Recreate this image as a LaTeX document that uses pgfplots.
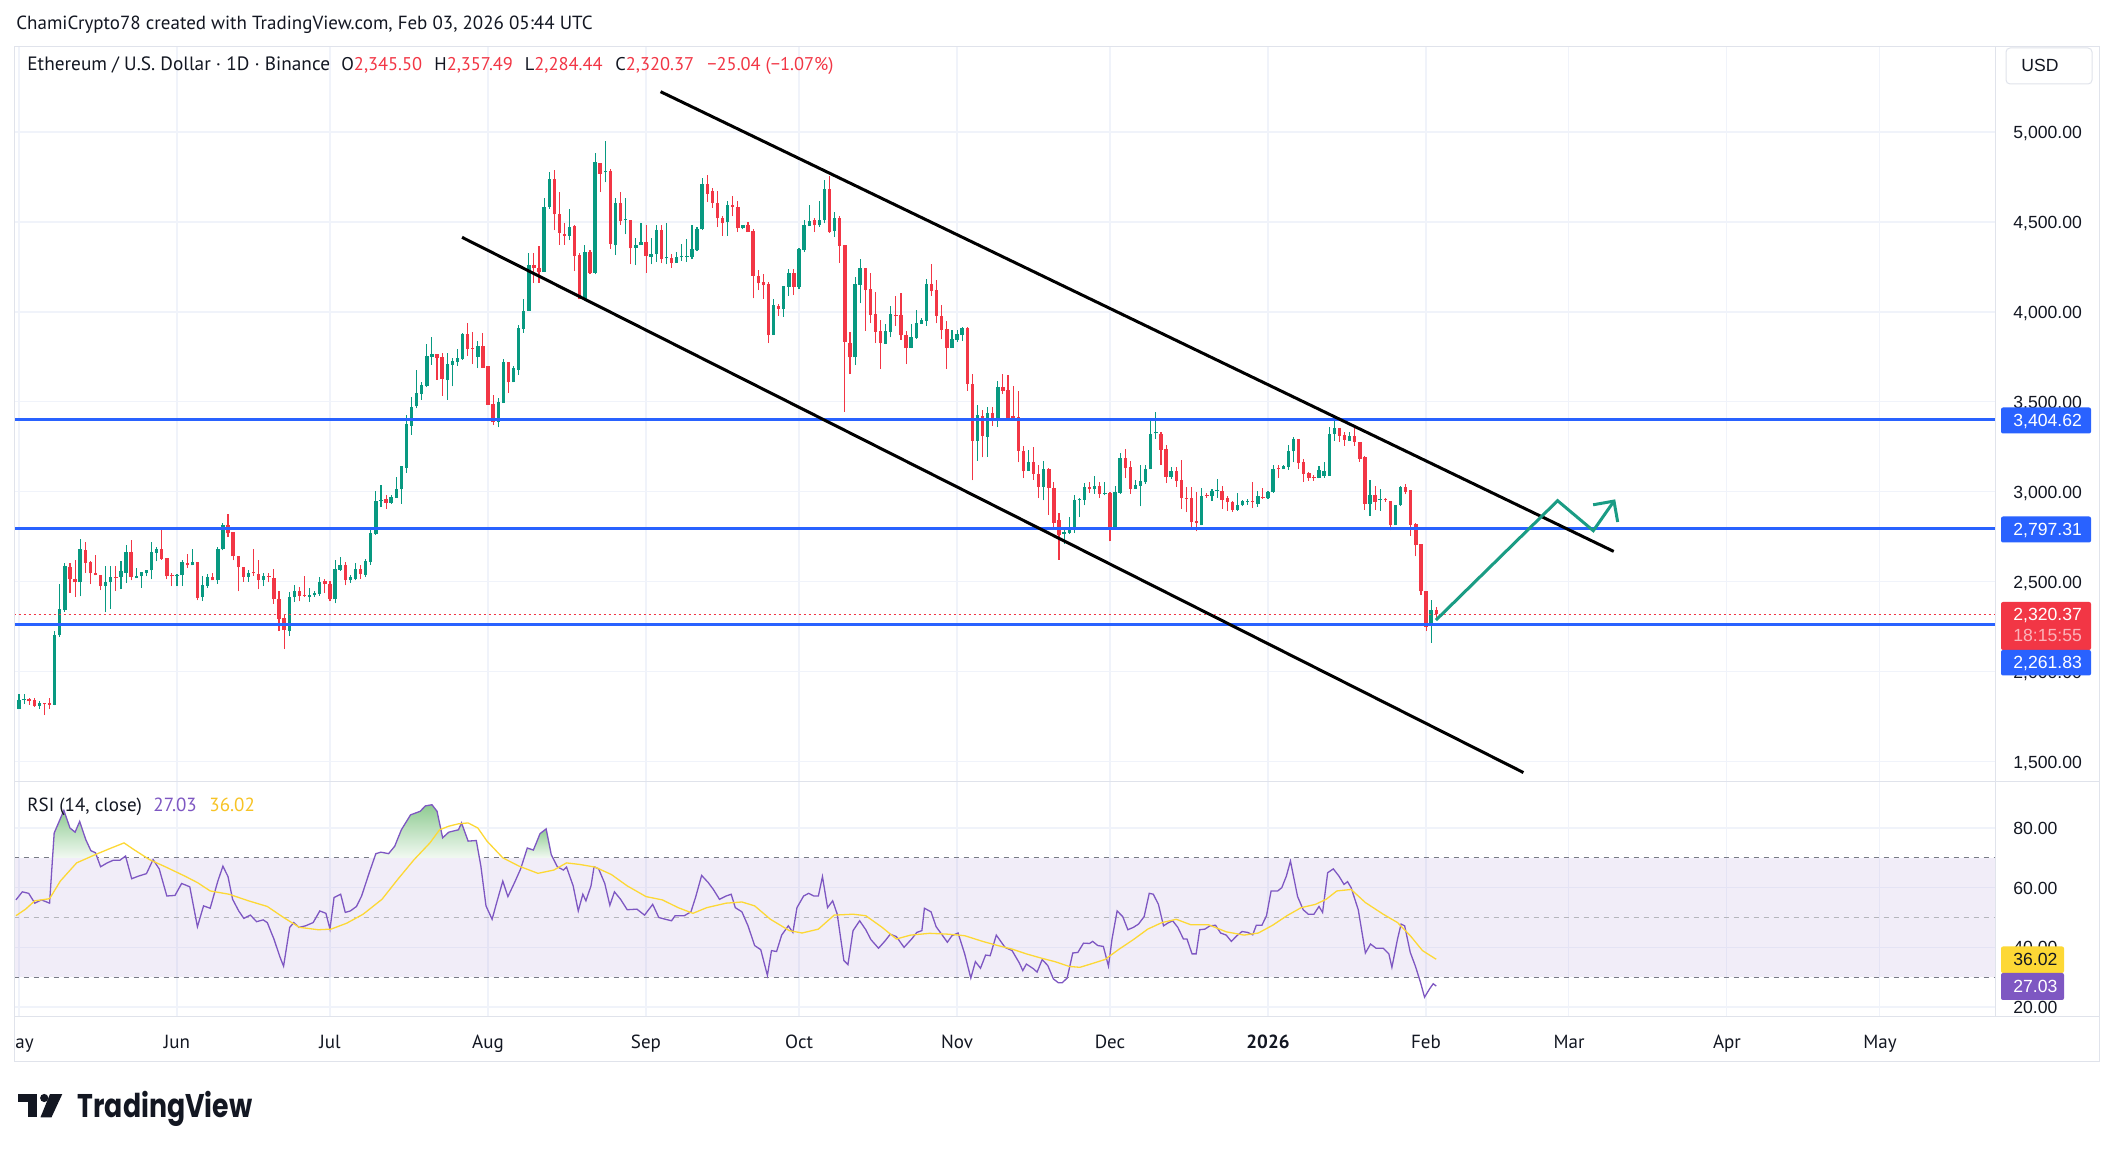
\documentclass[border=0pt]{standalone}
\usepackage{fontspec}
\setmainfont{PT Sans}
\newfontfamily\numfont{Liberation Sans}
\newfontfamily\logofont{Poppins}
\usepackage{pgfplots}
\usepackage{pgfplotstable}
\pgfplotsset{compat=1.18}
\usetikzlibrary{arrows.meta}

\definecolor{tvgreen}{HTML}{089981}
\definecolor{tvred}{HTML}{F23645}
\definecolor{tvblue}{HTML}{2962FF}
\definecolor{tvgrid}{HTML}{F0F3FA}
\definecolor{tvframe}{HTML}{E0E3EB}
\definecolor{rsipurple}{HTML}{7E57C2}
\definecolor{rsiyellow}{HTML}{FDD835}
\definecolor{rsiytext}{HTML}{F7C325}
\definecolor{tvdash}{HTML}{787B86}
\definecolor{tvtext}{HTML}{131722}
\definecolor{arrowc}{HTML}{1A9C84}
\definecolor{obtop}{HTML}{8FCB92}
\definecolor{obbot}{HTML}{F2F9F2}
\definecolor{timepink}{HTML}{FBB4BA}

\pgfplotstableread{
d o h l c
0 1792 1874 1790 1842
1 1840 1874 1820 1846
2 1846 1851 1815 1835
3 1842 1851 1805 1809
4 1809 1839 1792 1824
5 1822 1824 1759 1818
6 1824 1851 1792 1815
7 1815 2225 1812 2206
8 2203 2489 2192 2351
9 2342 2602 2332 2589
10 2584 2606 2440 2513
11 2517 2623 2414 2497
12 2497 2739 2419 2684
13 2678 2722 2551 2606
14 2612 2615 2486 2547
15 2550 2650 2536 2536
16 2539 2539 2452 2475
17 2475 2589 2330 2499
18 2497 2587 2351 2526
19 2526 2586 2449 2523
20 2525 2617 2458 2558
21 2550 2702 2493 2667
22 2667 2733 2508 2525
23 2519 2578 2519 2534
24 2530 2556 2467 2556
25 2547 2567 2530 2567
26 2563 2720 2513 2665
27 2660 2691 2613 2684
28 2684 2795 2623 2628
29 2634 2634 2513 2530
30 2534 2550 2476 2530
31 2530 2545 2476 2539
32 2536 2619 2476 2610
33 2604 2656 2576 2591
34 2591 2684 2591 2610
35 2610 2610 2397 2412
36 2414 2534 2392 2484
37 2478 2543 2464 2528
38 2528 2550 2508 2508
39 2508 2691 2488 2684
40 2680 2828 2674 2817
41 2817 2878 2748 2769
42 2774 2774 2619 2641
43 2645 2645 2447 2580
44 2584 2584 2499 2528
45 2528 2563 2499 2550
46 2550 2684 2532 2547
47 2545 2619 2458 2508
48 2508 2548 2476 2530
49 2530 2548 2497 2525
50 2523 2573 2377 2402
51 2406 2449 2225 2295
52 2301 2323 2125 2231
53 2227 2443 2197 2415
54 2413 2484 2386 2450
55 2450 2472 2391 2421
56 2424 2532 2415 2421
57 2415 2465 2386 2428
58 2424 2449 2415 2439
59 2434 2527 2421 2500
60 2502 2517 2439 2486
61 2489 2502 2391 2406
62 2402 2622 2380 2573
63 2567 2637 2561 2595
64 2595 2610 2480 2508
65 2508 2536 2493 2526
66 2513 2604 2508 2573
67 2573 2591 2517 2541
68 2539 2628 2526 2615
69 2610 2791 2595 2772
70 2765 3005 2761 2950
71 2950 3040 2915 2955
72 2961 2983 2905 2939
73 2939 2983 2933 2970
74 2966 3081 2966 3016
75 3013 3146 2933 3142
76 3135 3427 3105 3377
77 3366 3525 3316 3473
78 3475 3676 3464 3549
79 3543 3608 3512 3593
80 3586 3824 3580 3754
81 3750 3859 3706 3765
82 3765 3765 3623 3743
83 3750 3769 3534 3627
84 3621 3773 3512 3710
85 3706 3743 3586 3728
86 3723 3793 3700 3743
87 3737 3882 3734 3878
88 3878 3941 3756 3793
89 3798 3887 3710 3793
90 3750 3839 3688 3808
91 3808 3882 3688 3691
92 3700 3700 3482 3484
93 3488 3538 3371 3386
94 3390 3519 3358 3497
95 3493 3737 3493 3719
96 3719 3719 3552 3608
97 3608 3700 3608 3686
98 3678 3926 3649 3908
99 3904 4070 3885 4006
100 4006 4325 4006 4259
101 4259 4329 4163 4242
102 4246 4364 4163 4222
103 4222 4634 4222 4584
104 4584 4778 4573 4740
105 4740 4791 4455 4542
106 4545 4669 4375 4440
107 4436 4492 4375 4422
108 4422 4573 4399 4473
109 4477 4481 4227 4311
110 4314 4329 4070 4070
111 4070 4374 4061 4335
112 4335 4342 4209 4218
113 4218 4886 4209 4832
114 4828 4828 4666 4769
115 4776 4952 4721 4782
116 4782 4797 4351 4379
117 4370 4631 4316 4603
118 4603 4666 4486 4505
119 4510 4631 4431 4514
120 4510 4514 4264 4353
121 4357 4412 4261 4375
122 4372 4495 4372 4390
123 4390 4486 4218 4311
124 4305 4412 4264 4324
125 4320 4486 4277 4453
126 4453 4481 4270 4292
127 4298 4492 4264 4305
128 4301 4320 4246 4274
129 4274 4333 4274 4305
130 4305 4379 4283 4311
131 4305 4408 4277 4311
132 4307 4486 4292 4348
133 4342 4473 4338 4459
134 4459 4745 4455 4714
135 4714 4764 4610 4658
136 4671 4690 4579 4606
137 4606 4675 4471 4520
138 4523 4536 4425 4492
139 4499 4616 4425 4592
140 4592 4647 4532 4586
141 4586 4619 4444 4464
142 4464 4486 4459 4481
143 4481 4499 4444 4444
144 4449 4459 4076 4200
145 4200 4231 4122 4159
146 4166 4209 4074 4148
147 4157 4166 3826 3871
148 3871 4070 3871 4039
149 4033 4043 3978 4019
150 4015 4144 3972 4144
151 4139 4237 4089 4214
152 4214 4237 4094 4139
153 4139 4355 4126 4351
154 4347 4514 4333 4486
155 4477 4592 4477 4508
156 4514 4520 4444 4481
157 4481 4616 4473 4514
158 4510 4736 4492 4684
159 4684 4754 4440 4444
160 4449 4555 4416 4523
161 4523 4532 4274 4366
162 4370 4370 3445 3834
163 3826 3891 3654 3747
164 3747 4196 3704 4157
165 4150 4292 4048 4242
166 4242 4246 3895 4122
167 4126 4214 3937 3983
168 3987 4113 3826 3889
169 3895 3954 3682 3826
170 3824 3932 3821 3895
171 3889 4033 3858 3987
172 3985 4089 3922 3980
173 3982 4107 3845 3871
174 3871 3893 3710 3798
175 3798 3932 3798 3858
176 3856 4009 3852 3937
177 3932 3969 3932 3954
178 3950 4185 3922 4153
179 4153 4264 4089 4116
180 4120 4176 3937 3978
181 3978 4039 3848 3898
182 3904 3950 3682 3799
183 3799 3898 3799 3848
184 3845 3898 3834 3876
185 3872 3917 3839 3913
186 3908 3919 3562 3599
187 3599 3654 3063 3284
188 3284 3482 3173 3427
189 3423 3455 3192 3312
190 3306 3473 3196 3436
191 3438 3469 3368 3395
192 3395 3614 3362 3584
193 3584 3654 3543 3562
194 3565 3649 3405 3408
195 3423 3589 3405 3405
196 3414 3558 3164 3229
197 3229 3257 3076 3113
198 3118 3233 3118 3168
199 3168 3247 3066 3100
200 3100 3150 2965 3026
201 3029 3170 2952 3127
202 3124 3131 2872 3020
203 3022 3057 2798 2826
204 2841 2883 2622 2761
205 2767 2798 2711 2775
206 2770 2859 2767 2804
207 2804 2983 2770 2955
208 2952 2965 2859 2961
209 2955 3048 2924 3026
210 3026 3053 2994 3013
211 3013 3090 2989 3031
212 3035 3057 2966 2989
213 2989 3053 2980 2994
214 2994 2998 2724 2795
215 2798 3035 2795 2998
216 2994 3214 2989 3188
217 3188 3238 3076 3131
218 3137 3173 2989 3016
219 3016 3066 3016 3038
220 3035 3150 2919 3059
221 3053 3150 3044 3127
222 3124 3395 3124 3321
223 3325 3442 3294 3331
224 3321 3331 3149 3234
225 3238 3262 3048 3085
226 3081 3137 3072 3118
227 3118 3136 3029 3062
228 3068 3177 2905 2964
229 2968 3026 2887 2963
230 2963 3026 2798 2830
231 2839 2998 2780 2826
232 2813 3022 2813 2979
233 2983 2992 2966 2979
234 2974 3016 2948 3007
235 3003 3072 2966 3007
236 3007 3031 2905 2957
237 2966 2976 2896 2944
238 2944 2948 2890 2900
239 2900 2992 2896 2928
240 2924 2955 2920 2950
241 2946 2961 2928 2951
242 2951 3057 2909 2946
243 2933 3007 2918 2974
244 2972 3020 2961 2966
245 2964 3007 2961 2998
246 2998 3149 2994 3127
247 3131 3149 3077 3124
248 3124 3149 3124 3142
249 3140 3260 3122 3229
250 3225 3307 3164 3294
251 3294 3294 3127 3160
252 3168 3183 3057 3100
253 3105 3112 3062 3077
254 3081 3094 3062 3077
255 3079 3146 3075 3120
256 3090 3168 3077 3118
257 3090 3358 3090 3321
258 3321 3401 3284 3353
259 3353 3353 3279 3312
260 3316 3334 3257 3290
261 3284 3334 3284 3312
262 3312 3368 3257 3279
263 3275 3275 3168 3183
264 3192 3201 2900 2933
265 2933 3068 2868 2983
266 2983 3031 2900 2946
267 2955 3016 2896 2959
268 2961 2968 2946 2955
269 2951 2951 2785 2813
270 2813 2928 2813 2928
271 2924 3031 2920 3026
272 3027 3044 2985 3001
273 3011 3011 2757 2817
274 2822 2828 2641 2702
275 2707 2711 2425 2447
276 2450 2450 2225 2249
277 2258 2397 2162 2345.5
278 2345.5 2357.49 2284.44 2320.37
}\candles

\pgfplotstableread{
d r
-0.6 55.9
0.65 58.6
1.9 58.1
3.1 54.8
4.4 55.9
6.0 54.8
6.9 78.3
8.8 85.9
10.0 80.0
11.0 78.6
11.9 82.2
13.1 76.1
14.1 72.4
15.0 71.7
16.0 67.0
17.3 68.3
18.5 69.2
19.8 69.2
20.9 70.6
22.1 63.0
23.5 63.9
25.0 64.7
26.3 69.4
27.5 66.3
29.0 57.2
30.6 57.4
31.9 61.4
33.5 60.3
35.0 46.9
36.2 53.9
37.5 53.1
39.0 62.2
40.0 67.2
41.0 63.7
41.9 56.1
43.1 52.2
44.1 49.7
45.4 50.8
46.6 48.6
47.9 49.2
48.7 48.3
50.0 42.8
51.2 36.7
51.9 33.7
53.1 46.7
53.9 48.3
54.9 46.7
56.2 47.2
57.7 48.3
59.0 52.2
60.2 51.4
61.0 46.1
61.8 56.7
63.1 57.8
64.0 51.7
65.0 52.2
66.2 53.7
67.2 57.2
68.7 65.0
70.0 71.4
71.0 71.9
72.5 71.4
73.7 73.9
75.0 79.4
76.8 84.4
78.7 85.6
79.7 87.4
81.0 87.8
82.0 85.6
83.1 76.7
84.3 78.6
86.2 79.4
86.8 81.7
88.1 75.6
89.7 75.8
90.6 67.2
91.6 53.9
92.8 49.4
93.7 55.0
94.9 62.2
95.9 57.0
97.2 61.7
98.4 66.3
99.7 73.3
100.9 72.6
102.2 78.1
103.4 79.7
104.4 71.1
105.6 67.0
106.8 65.9
107.4 66.9
108.7 60.6
109.7 52.2
110.6 57.8
111.2 55.6
112.2 60.6
112.8 67.0
113.7 66.3
114.9 61.4
115.9 54.1
116.8 58.6
118.0 56.1
119.3 52.6
121.2 52.8
122.7 50.8
124.3 54.4
125.5 50.0
126.8 49.4
128.0 48.9
128.7 50.6
130.5 50.6
131.8 51.9
132.7 56.7
133.9 64.1
135.2 61.7
136.2 59.4
137.4 56.1
138.7 57.2
139.7 57.8
140.5 53.3
141.8 51.9
143.0 47.2
144.3 40.6
145.5 39.2
146.8 30.6
147.6 38.9
148.6 38.6
149.6 44.1
150.9 47.2
151.8 45.0
152.6 53.3
153.9 57.2
154.9 58.1
155.9 57.2
156.8 57.2
157.6 63.7
158.6 53.3
159.6 55.6
160.5 51.1
161.8 35.6
162.6 34.2
163.6 45.6
164.9 48.9
166.1 45.9
167.1 42.6
168.6 39.7
169.9 42.2
170.9 44.4
172.1 43.6
173.6 40.0
175.1 42.8
176.1 45.0
177.1 45.6
177.6 53.1
178.9 51.9
179.9 46.9
181.1 44.1
182.1 41.7
183.0 43.9
184.2 44.8
185.5 37.8
186.7 29.7
187.6 35.2
188.6 33.0
189.6 37.4
190.5 37.2
191.7 44.1
193.4 40.0
194.8 38.9
196.2 34.8
196.9 32.2
197.6 34.4
199.0 32.8
199.7 31.7
200.7 35.9
201.8 33.9
202.9 29.4
203.9 28.1
204.6 28.1
205.6 29.7
206.7 38.1
207.7 38.3
208.8 41.4
210.0 41.3
210.6 42.0
211.6 40.6
212.7 40.3
213.7 33.7
214.4 42.8
215.4 52.2
216.5 50.3
217.5 45.9
218.6 46.7
219.6 47.8
220.7 50.3
221.7 58.1
222.5 57.8
223.5 54.4
224.5 47.2
225.3 48.1
226.3 48.9
227.3 46.7
228.4 42.8
229.1 42.8
230.1 37.8
230.9 37.8
231.6 45.9
232.6 46.1
233.6 47.2
234.7 47.4
235.7 44.8
236.8 44.1
237.8 42.0
238.9 43.9
239.9 45.3
241.0 45.0
242.0 44.2
242.7 47.4
243.8 47.4
244.7 50.6
245.6 58.9
246.9 58.9
247.7 60.0
248.6 63.9
249.4 68.9
250.8 57.0
251.9 52.6
252.9 51.1
254.0 51.1
255.0 53.7
255.7 51.7
256.7 65.0
257.8 66.3
258.9 63.9
259.9 61.1
260.6 62.0
261.3 60.0
262.7 52.6
264.1 38.1
265.1 41.1
266.2 39.7
267.6 39.7
268.7 37.8
269.3 33.3
270.4 42.8
271.1 47.8
271.8 47.2
272.9 38.3
273.9 33.7
274.9 28.3
275.7 23.3
276.7 26.1
277.4 27.8
278.0 27.03
}\rsidata

\pgfplotstableread{
d m
-0.6 50.6
1.3 52.8
3.1 55.6
6.0 56.3
8.1 62.2
11.3 68.3
15.0 71.1
18.1 73.3
20.6 75.0
22.5 72.8
25.6 69.4
28.7 67.0
32.5 63.9
35.0 61.7
37.5 58.9
41.2 57.8
45.0 55.6
48.7 53.7
51.9 50.0
55.0 46.7
58.7 45.9
61.2 46.1
64.3 48.1
67.5 51.1
71.2 56.1
74.3 62.8
77.5 69.4
80.6 75.0
82.5 79.4
84.3 80.6
86.2 81.4
88.1 81.7
90.0 80.0
91.8 75.6
94.9 70.0
98.1 67.2
101.8 64.8
104.9 65.9
107.4 68.3
109.9 67.8
113.0 66.9
116.2 64.4
119.3 60.6
123.0 57.0
126.2 55.9
129.3 53.3
132.2 51.4
134.9 53.3
138.7 54.8
141.8 55.2
144.3 53.9
147.4 49.4
151.1 45.6
153.6 44.8
156.8 46.1
159.9 50.8
163.6 51.1
166.1 50.6
169.3 46.7
172.1 42.8
174.9 44.1
178.6 44.7
182.4 44.4
185.5 43.9
189.2 41.9
192.0 40.6
194.8 39.4
197.6 37.8
200.7 36.3
203.2 35.2
206.0 33.6
208.1 33.3
210.2 34.4
213.0 35.9
215.8 39.4
218.6 42.6
221.4 46.1
224.2 48.3
227.0 49.4
229.8 47.6
233.3 47.6
236.8 45.2
240.3 44.1
243.1 44.8
245.9 47.4
248.7 50.6
251.5 53.3
254.3 54.4
256.4 56.1
258.5 58.9
261.3 59.4
264.1 55.0
267.6 51.1
270.4 48.3
272.9 43.9
275.3 38.9
277.7 36.3
278.0 36.02
}\madata

\pgfplotsset{
  tvaxis/.style={
    scale only axis, anchor=south west, width=990.5pt,
    xmin=-0.981, xmax=387.6,
    axis line style={draw=none},
    ticks=none,
  },
  wick/.style={draw=none, mark=none,
    /pgfplots/error bars/y dir=plus,
    /pgfplots/error bars/y explicit,
    /pgfplots/error bars/error mark=none,
    /pgfplots/error bars/error bar style={draw=#1, line width=0.55pt, solid}},
  body/.style={draw=none, mark=none,
    /pgfplots/error bars/y dir=plus,
    /pgfplots/error bars/y explicit,
    /pgfplots/error bars/error mark=none,
    /pgfplots/error bars/error bar style={draw=#1, line width=1.7pt, solid}},
}

\newcommand\hdr{\fontsize{9.5}{11}\selectfont}
\newcommand\leg{\fontsize{9.65}{11}\selectfont}
\newcommand\legv{\fontsize{9.2}{11}\selectfont}
\newcommand\axf{\numfont\fontsize{8.8}{10}\selectfont}

\begin{document}
\begin{tikzpicture}
\useasboundingbox (0,0) rectangle (1057pt,575.5pt);
\fill[white] (0,0) rectangle (1057pt,575.5pt);

% ---------- price pane ----------
\begin{axis}[tvaxis, at={(7pt,184.5pt)}, height=367.5pt,
  ymin=1386.5, ymax=5473.2]
  % grid
  \pgfplotsinvokeforeach{0,31,61,92,123,153,184,214,245,276,304,335,365}{
    \addplot[tvgrid, line width=0.6pt] coordinates {(#1,1000) (#1,6000)};}
  \pgfplotsinvokeforeach{1500,2000,2500,3000,3500,4000,4500,5000}{
    \addplot[tvgrid, line width=0.6pt] coordinates {(-5,#1) (400,#1)};}
  % candles: wicks
  \addplot[restrict expr to domain={\thisrow{c}-\thisrow{o}}{0:100000}, wick=tvgreen]
    table[x=d, y=l, y error expr={\thisrow{h}-\thisrow{l}}] {\candles};
  \addplot[restrict expr to domain={\thisrow{c}-\thisrow{o}}{-100000:-0.001}, wick=tvred]
    table[x=d, y=l, y error expr={\thisrow{h}-\thisrow{l}}] {\candles};
  % candles: bodies
  \addplot[restrict expr to domain={\thisrow{c}-\thisrow{o}}{0:100000}, body=tvgreen]
    table[x=d, y expr={min(\thisrow{o},\thisrow{c})}, y error expr={max(abs(\thisrow{c}-\thisrow{o}),5)}] {\candles};
  \addplot[restrict expr to domain={\thisrow{c}-\thisrow{o}}{-100000:-0.001}, body=tvred]
    table[x=d, y expr={min(\thisrow{o},\thisrow{c})}, y error expr={max(abs(\thisrow{c}-\thisrow{o}),5)}] {\candles};
  % current price line
  \addplot[tvred, line width=0.5pt, dash pattern=on 1pt off 1.5pt] coordinates {(-5,2320.37) (400,2320.37)};
  % horizontal levels
  \addplot[tvblue, line width=1.5pt] coordinates {(-5,3404.62) (400,3404.62)};
  \addplot[tvblue, line width=1.5pt] coordinates {(-5,2797.31) (400,2797.31)};
  \addplot[tvblue, line width=1.5pt] coordinates {(-5,2261.83) (400,2261.83)};
  % channel
  \addplot[black, line width=1.5pt] coordinates {(125.85,5224.6) (312.8,2668.6)};
  \addplot[black, line width=1.5pt] coordinates {(86.9,4415) (295.1,1439)};
  % projection arrow
  \addplot[arrowc, line width=1.5pt, line join=miter, -{Straight Barb[length=7.5pt,width=15pt]}]
    coordinates {(277.95,2287) (301.8,2950.5) (308.8,2783.7) (313.1,2958)};
\end{axis}

% ---------- RSI pane ----------
\begin{axis}[tvaxis, at={(7pt,67pt)}, height=117.5pt,
  ymin=16.65, ymax=95.42]
  \pgfplotsinvokeforeach{0,31,61,92,123,153,184,214,245,276,304,335,365}{
    \addplot[tvgrid, line width=0.6pt] coordinates {(#1,0) (#1,100)};}
  \pgfplotsinvokeforeach{20,40,60,80}{
    \addplot[tvgrid, line width=0.6pt] coordinates {(-5,#1) (400,#1)};}
  \addplot[fill=rsipurple, fill opacity=0.1, draw=none]
    coordinates {(-5,30) (400,30) (400,70) (-5,70) (-5,30)};
  \addplot[tvdash, line width=0.5pt, dash pattern=on 2.5pt off 2.5pt] coordinates {(-5,70) (400,70)};
  \addplot[tvdash!55, line width=0.5pt, dash pattern=on 2.5pt off 2.5pt] coordinates {(-5,50) (400,50)};
  \addplot[tvdash, line width=0.5pt, dash pattern=on 2.5pt off 2.5pt] coordinates {(-5,30) (400,30)};
  % overbought fills (portions of the RSI above 70)
  \addplot[draw=none, top color=obtop, bottom color=obbot] coordinates {
    (6.58,70) (6.9,78.3) (8.8,85.9) (10.0,80.0) (11.0,78.6) (11.9,82.2) (13.1,76.1)
    (14.1,72.4) (15.0,71.7) (15.36,70) (6.58,70)};
  \addplot[draw=none, top color=obtop, bottom color=obbot] coordinates {
    (69.72,70) (70.0,71.4) (71.0,71.9) (72.5,71.4) (73.7,73.9) (75.0,79.4) (76.8,84.4)
    (78.7,85.6) (79.7,87.4) (81.0,87.8) (82.0,85.6) (83.1,76.7) (84.3,78.6) (86.2,79.4)
    (86.8,81.7) (88.1,75.6) (89.7,75.8) (90.31,70) (69.72,70)};
  \addplot[draw=none, top color=obtop, bottom color=obbot] coordinates {
    (99.09,70) (99.7,73.3) (100.9,72.6) (102.2,78.1) (103.4,79.7) (104.4,71.1) (104.72,70) (99.09,70)};
  \addplot[rsipurple, line width=0.65pt] table[x=d, y=r] {\rsidata};
  \addplot[rsiyellow, line width=0.65pt] table[x=d, y=m] {\madata};
\end{axis}

% ---------- annotations in pixel coordinates ----------
\begin{scope}[x=0.5pt, y=-0.5pt, shift={(0,575.5pt)}]
  % frame
  \draw[tvframe, line width=0.5pt] (14,46.5) rectangle (2099,1061);
  \draw[tvframe, line width=0.5pt] (14,782) -- (2099,782);
  \draw[tvframe, line width=0.5pt] (14,1017) -- (2099,1017);
  \draw[tvframe, line width=0.5pt] (1995,46.5) -- (1995,1017);

  % header
  \node[anchor=base west, inner sep=0, text=tvtext, font=\hdr] at (16,29.5)
    {ChamiCrypto78 created with TradingView.com, Feb 03, 2026 05:44 UTC};
  \node[anchor=base west, inner sep=0, text=tvtext, font=\leg] at (27,70.5)
    {Ethereum / U.S. Dollar · 1D · Binance};
  \node[anchor=base west, inner sep=0, text=tvtext, font=\legv] at (341,70.5) {O\textcolor{tvred}{2,345.50}};
  \node[anchor=base west, inner sep=0, text=tvtext, font=\legv] at (434,70.5) {H\textcolor{tvred}{2,357.49}};
  \node[anchor=base west, inner sep=0, text=tvtext, font=\legv] at (524.5,70.5) {L\textcolor{tvred}{2,284.44}};
  \node[anchor=base west, inner sep=0, text=tvtext, font=\legv] at (615,70.5) {C\textcolor{tvred}{2,320.37}};
  \node[anchor=base west, inner sep=0, text=tvred, font=\legv] at (707,70.5) {−25.04 (−1.07\%)};

  % RSI legend
  \node[anchor=base west, inner sep=0, text=tvtext, font=\hdr] at (27,811.5) {RSI (14, close)};
  \node[anchor=base west, inner sep=0, text=rsipurple, font=\hdr] at (153,811.5) {27.03};
  \node[anchor=base west, inner sep=0, text=rsiytext, font=\hdr] at (209,811.5) {36.02};

  % USD box
  \draw[tvframe, fill=white, rounded corners=2pt, line width=0.5pt] (2006,48) rectangle (2092,84);
  \node[anchor=base west, inner sep=0, text=tvtext, font=\axf] at (2021,72) {USD};

  % price axis labels
  \foreach \yy/\lab in {138.6/{5,000.00},228.5/{4,500.00},318.5/{4,000.00},408.4/{3,500.00},
                        498.3/{3,000.00},588.2/{2,500.00},678.2/{2,000.00},768.1/{1,500.00}}
    \node[anchor=base west, inner sep=0, text=tvtext, font=\axf] at (2013,\yy) {\lab};
  % RSI axis labels
  \foreach \yy/\lab in {834.5/{80.00},894.2/{60.00},953.8/{40.00},1013.5/{20.00}}
    \node[anchor=base west, inner sep=0, text=tvtext, font=\axf] at (2013,\yy) {\lab};

  % price tags
  \fill[tvblue, rounded corners=1pt] (2001,407.5) rectangle (2091,433.5);
  \node[anchor=base west, inner sep=0, text=white, font=\axf] at (2013,427) {3,404.62};
  \fill[tvblue, rounded corners=1pt] (2001,516.5) rectangle (2091,542.5);
  \node[anchor=base west, inner sep=0, text=white, font=\axf] at (2013,536) {2,797.31};
  \fill[tvred, rounded corners=1pt] (2001,602) rectangle (2091,650);
  \node[anchor=base west, inner sep=0, text=white, font=\axf] at (2013,621) {2,320.37};
  \node[anchor=base west, inner sep=0, text=timepink, font=\axf] at (2013,641.5) {18:15:55};
  \fill[tvblue, rounded corners=1pt] (2001,650) rectangle (2091,675.5);
  \node[anchor=base west, inner sep=0, text=white, font=\axf] at (2013,669) {2,261.83};

  % RSI tags
  \fill[rsiyellow, rounded corners=1pt] (2001,946.5) rectangle (2064,973);
  \node[anchor=base west, inner sep=0, text=tvtext, font=\axf] at (2013,965.5) {36.02};
  \fill[rsipurple, rounded corners=1pt] (2001,973) rectangle (2064,1000);
  \node[anchor=base west, inner sep=0, text=white, font=\axf] at (2013,992.5) {27.03};

  % time axis
  \node[anchor=base west, inner sep=0, text=tvtext, font=\hdr] at (15,1048) {ay};
  \foreach \xx/\lab in {177/Jun,330/Jul,488/Aug,646/Sep,799/Oct,957/Nov,1110/Dec,1426/Feb,1569/Mar,1727/Apr,1880/May}
    \node[anchor=base, inner sep=0, text=tvtext, font=\hdr] at (\xx,1048) {\lab};
  \node[anchor=base, inner sep=0, text=tvtext, font=\hdr\bfseries] at (1268,1048) {2026};

  % TradingView logo
  \fill[tvtext] (18.3,1094) rectangle (36.7,1101.7);
  \fill[tvtext] (28.3,1094) rectangle (36.7,1117.3);
  \fill[tvtext] (44.2,1098) circle (4.1);
  \fill[tvtext] (50,1094) -- (62.3,1094) -- (51.5,1117.3) -- (40.5,1117.3) -- cycle;
  \node[anchor=base west, inner sep=0, text=tvtext] at (77.3,1117.3)
    {\scalebox{0.815}[1]{\logofont\bfseries\fontsize{16.4}{18}\selectfont TradingView}};
\end{scope}
\end{tikzpicture}
\end{document}
